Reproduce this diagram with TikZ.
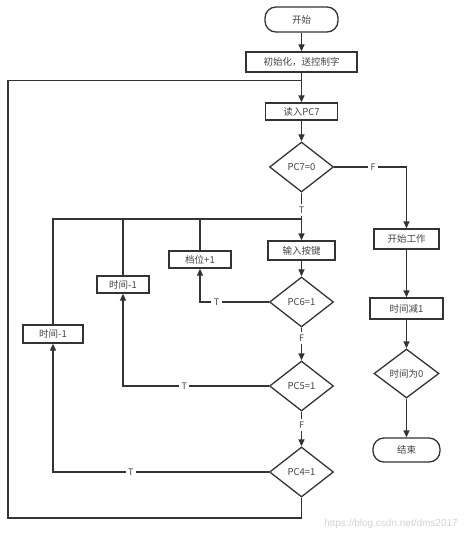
\documentclass[tikz,border=0pt]{standalone}
\usepackage{fontspec}
\usepackage{xcolor}
\usepackage{tikz}
\usetikzlibrary{positioning,arrows.meta,shapes.geometric}
\newfontfamily\cjk{Noto Sans CJK SC}
\definecolor{lineGray}{RGB}{51,51,51}
\definecolor{textGray}{RGB}{68,68,68}

\begin{document}
\begin{tikzpicture}[x=1pt, y=-1pt,
        line width=1.3pt, draw=lineGray,
        box/.style={draw=lineGray, rectangle, align=center, inner sep=1pt,
                    text=textGray, font=\cjk\fontsize{9.5}{11}\selectfont},
        term/.style={box, rounded corners=11pt},
        dec/.style={box, diamond, inner sep=0pt},
        lbl/.style={fill=white, inner sep=2.5pt, text=textGray,
                    font=\cjk\fontsize{9}{10}\selectfont},
        arr/.style={-{Triangle[length=7pt,width=6pt]}}
    ]
        \useasboundingbox (0,0) rectangle (474,537);
        % main column
        \node[term, minimum width=73pt, minimum height=25pt] (start) at (301.5,19.5) {开始};
        \node[box, minimum width=111pt, minimum height=20pt] (init) at (301.5,62) {初始化，送控制字};
        \node[box, minimum width=72pt, minimum height=17pt] (read) at (301.5,111.5) {读入PC7};
        \node[dec, minimum width=64pt, minimum height=50pt] (pc7) at (301.5,167) {PC7=0};
        \node[box, minimum width=67pt, minimum height=19pt] (key) at (301.5,250.5) {输入按键};
        \node[dec, minimum width=64pt, minimum height=50pt] (pc6) at (301.5,302) {PC6=1};
        \node[dec, minimum width=64pt, minimum height=50pt] (pc5) at (301.5,386) {PC5=1};
        \node[dec, minimum width=64pt, minimum height=50pt] (pc4) at (301.5,472) {PC4=1};
        % left side
        \node[box, minimum width=62pt, minimum height=17pt] (gear) at (200,259.5) {档位+1};
        \node[box, minimum width=52pt, minimum height=17pt] (time2) at (123,284.5) {时间-1};
        \node[box, minimum width=60pt, minimum height=18pt] (time3) at (53,334) {时间-1};
        % right column
        \node[box, minimum width=65pt, minimum height=20pt] (work) at (406.5,239) {开始工作};
        \node[box, minimum width=73pt, minimum height=21pt] (dec1) at (406.5,308.5) {时间减1};
        \node[dec, minimum width=65pt, minimum height=49pt] (zero) at (406.5,373.5) {时间为0};
        \node[term, minimum width=67pt, minimum height=24pt] (stop) at (406.5,450) {结束};
        \node[text=gray!35, font=\fontspec{Liberation Sans}\fontsize{10}{12}\selectfont] (mark) at (391,524) {https://blog.csdn.net/dms2017};

        \coordinate (bus) at (301.5,219);
        \coordinate (loopb) at (8,518);
        \coordinate (loopt) at (8,80.5);

        \draw[arr] (start) -- (init);
        \draw[arr] (init) -- (read);
        \draw[arr] (read) -- (pc7);
        \draw[arr] (pc7.east) -| node[lbl, pos=0.27] {F} (work.north);
        \draw (time3.north) |- (bus);
        \draw (time2.north) |- (bus);
        \draw (gear.north) |- (bus);
        \draw[arr] (pc7.south) -- node[lbl, pos=0.36] {T} (key.north);
        \draw[arr] (key) -- (pc6);
        \draw[arr] (pc6.west) -| node[lbl, pos=0.38] {T} (gear.south);
        \draw[arr] (pc6.south) -- node[lbl, pos=0.32] {F} (pc5.north);
        \draw[arr] (pc5.west) -| node[lbl, pos=0.29] {T} (time2.south);
        \draw[arr] (pc5.south) -- node[lbl, pos=0.39] {F} (pc4.north);
        \draw[arr] (pc4.west) -| node[lbl, pos=0.32] {T} (time3.south);
        \draw (pc4.south) |- (loopb) -- (loopt) -- (loopt -| read);
        \draw[arr] (work) -- (dec1);
        \draw[arr] (dec1) -- (zero);
        \draw[arr] (zero) -- (stop);
    \end{tikzpicture}
\end{document}
